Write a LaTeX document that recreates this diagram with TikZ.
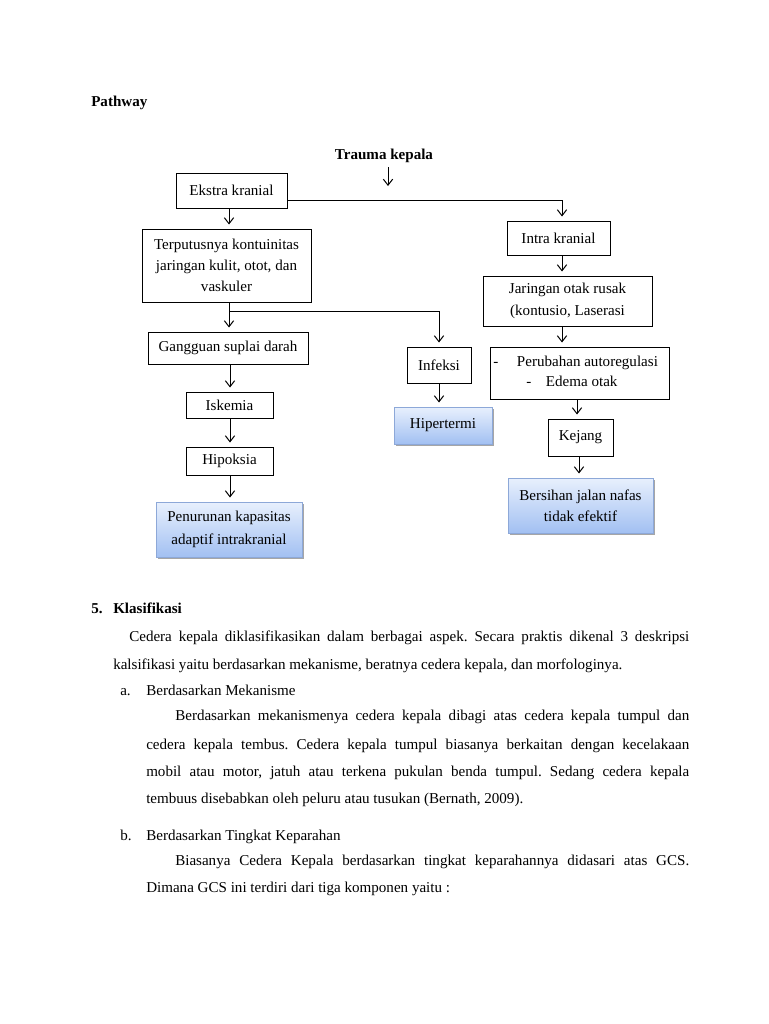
\documentclass[tikz,border=0pt]{standalone}
\usepackage{fontspec}
\setmainfont{Liberation Serif}
\usetikzlibrary{arrows.meta,shadows,calc}
\definecolor{bluetop}{HTML}{E8F0FD}
\definecolor{bluebot}{HTML}{A2C0F2}
\definecolor{blueline}{HTML}{8DA8D8}
\frenchspacing
\begin{document}
\begin{tikzpicture}[x=0.75pt,y=-0.75pt,
 every node/.style={font=\fontsize{11.3}{16}\selectfont},
 wh/.style 2 args={minimum width=#1*0.75pt, minimum height=#2*0.75pt},
 box/.style={draw, line width=0.75pt, align=center, inner sep=0pt},
 bluebox/.style={box, draw=blueline, top color=bluetop, bottom color=bluebot,
   drop shadow={shadow xshift=1.5pt, shadow yshift=-1.5pt, opacity=0.35, fill=black}},
 arr/.style={-{Straight Barb[length=4.5pt,width=7pt,line width=0.75pt]}, line width=0.75pt, shorten >=3pt},
 txt/.style={anchor=base west, inner sep=0pt}]
\useasboundingbox[fill=white] (0,0) rectangle (768,1024);

\node[txt] (pw) at (91,106) {\bfseries Pathway};
\node (tk) at (384,156) {\bfseries Trauma kepala};
\coordinate (tka) at (388,167);
\coordinate (tkb) at (388,190);

% left branch
\node[box, wh={111}{35}] (ek) at (231.5,190.5) {Ekstra kranial};
\node[box, wh={169}{73}] (ter) at (226.5,265.5) {Terputusnya kontuinitas\\jaringan kulit, otot, dan\\vaskuler};
\node[box, wh={160}{32}] (ga) at (228,348) {Gangguan suplai darah};
\node[box, wh={87}{26}] (is) at (229.5,405) {Iskemia};
\node[box, wh={87}{28}] (hi) at (229.5,461) {Hipoksia};
\node[bluebox, wh={146}{55}, font=\fontsize{11.3}{17}\selectfont] (pe) at (229,529.5) {Penurunan kapasitas\\adaptif intrakranial};

% middle branch
\node[box, wh={64}{36}] (in) at (439,365) {Infeksi};
\node[bluebox, wh={98}{37}] (hp) at (443,425.5) {Hipertermi};

% right branch
\node[box, wh={103}{34}] (ik) at (558.5,238) {Intra kranial};
\node[box, wh={169}{50}] (jo) at (567.5,301) {Jaringan otak rusak\\(kontusio, Laserasi};
\node[box, wh={179}{52}] (pr) at (579.5,373) {};
\node[txt] (pr1) at (493,366) {-\hspace{14pt}Perubahan autoregulasi};
\node[txt] (pr2) at (526,386) {-\hspace{11pt}Edema otak};
\node[box, wh={65}{37}] (kj) at (580.5,437.5) {Kejang};
\node[bluebox, wh={145}{55}] (bj) at (580.5,505.5) {Bersihan jalan nafas\\tidak efektif};

% connector start points
\path (ek.south) ++(-2.5,0) coordinate (c1);
\path (ek.south east) ++(0,-8) coordinate (c2);
\path (ik.north) ++(3.5,0) coordinate (c2e);
\path (ter.south) ++(2.5,0) coordinate (c3);
\path (ter.south) ++(2.5,9) coordinate (c4);
\path (ga.south) ++(2,0) coordinate (c5);
\path (is.south) ++(0.5,0) coordinate (c6);
\path (hi.south) ++(0.5,0) coordinate (c7);
\path (ik.south) ++(3.5,0) coordinate (c8);
\path (jo.south) ++(-5.5,0) coordinate (c9);
\path (pr.south) ++(-2.5,0) coordinate (c10);
\path (kj.south) ++(-1.5,0) coordinate (c11);

% connectors
\draw[arr] (tka) -- (tkb);
\draw[arr] (c1) -- (c1 |- ter.north);
\draw[arr] (c2) -| (c2e);
\draw[arr] (c3) -- (c3 |- ga.north);
\draw[arr] (c4) -| (in.north);
\draw[arr] (c5) -- (c5 |- is.north);
\draw[arr] (c6) -- (c6 |- hi.north);
\draw[arr] (c7) -- (c7 |- pe.north);
\draw[arr] (in.south) -- (in.south |- hp.north);
\draw[arr] (c8) -- (c8 |- jo.north);
\draw[arr] (c9) -- (c9 |- pr.north);
\draw[arr] (c10) -- (c10 |- kj.north);
\draw[arr] (c11) -- (c11 |- bj.north);

% text
\node[txt] (k5) at (91,613) {\bfseries 5.};
\node[txt] (k5t) at (113,613) {\bfseries Klasifikasi};
\node[txt] (p1a) at (129,641) {\makebox[420pt][s]{Cedera kepala diklasifikasikan dalam berbagai aspek. Secara praktis dikenal 3 deskripsi}};
\node[txt] (p1b) at (113,669) {kalsifikasi yaitu berdasarkan mekanisme, beratnya cedera kepala, dan morfologinya.};
\node[txt] (la) at (120,695) {a.};
\node[txt] (lat) at (146,695) {Berdasarkan Mekanisme};
\node[txt] (a1) at (175,720) {\makebox[385.5pt][s]{Berdasarkan mekanismenya cedera kepala dibagi atas cedera kepala tumpul dan}};
\node[txt] (a2) at (146,749) {\makebox[407.25pt][s]{cedera kepala tembus. Cedera kepala tumpul biasanya berkaitan dengan kecelakaan}};
\node[txt] (a3) at (146,776) {\makebox[407.25pt][s]{mobil atau motor, jatuh atau terkena pukulan benda tumpul. Sedang cedera kepala}};
\node[txt] (a4) at (146,803) {tembuus disebabkan oleh peluru atau tusukan (Bernath, 2009).};
\node[txt] (lb) at (120,840) {b.};
\node[txt] (lbt) at (146,840) {Berdasarkan Tingkat Keparahan};
\node[txt] (b1) at (175,865) {\makebox[385.5pt][s]{Biasanya Cedera Kepala berdasarkan tingkat keparahannya didasari atas GCS.}};
\node[txt] (b2) at (146,892) {Dimana GCS ini terdiri dari tiga komponen yaitu :};
\end{tikzpicture}
\end{document}
